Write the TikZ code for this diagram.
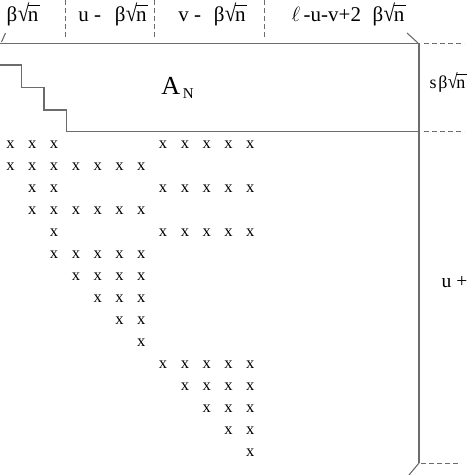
\documentclass[tikz,border=0pt]{standalone}
\usepackage{fontspec}
\setmainfont{Liberation Serif}
\newcommand{\sqn}{β\kern.02em\raisebox{-0.02em}{\scalebox{1}[1.12]{√}}\kern-0.07em\rlap{\rule[0.74em]{0.58em}{0.045em}}n}
\begin{document}
\begin{tikzpicture}[x=1pt,y=-1pt,
  frame/.style={draw=gray!85!black,line width=1.1pt},
  dashline/.style={draw=gray!85!black,line width=1pt,dash pattern=on 5pt off 3pt},
  lab/.style={inner sep=0pt,font=\fontsize{21}{23}\selectfont},
  xx/.style={inner sep=0pt,font=\fontsize{16.5}{18}\selectfont}]
\useasboundingbox (0,0) rectangle (474,475);
% frame lines
\draw[frame] (0,43.5) -- (419,43.5) -- (419,463);
\draw[frame] (0,65) -- (21.7,65) -- (21.7,87.7) -- (44,87.7) -- (44,110) -- (66.5,110) -- (66.5,131.7) -- (419,131.7);
\draw[frame] (1.5,42) -- (5.5,33);
\draw[frame] (407,33) -- (418,43);
\draw[frame] (419,463) -- (409,475);
% dashed guides
\draw[dashline] (65.7,0) -- (65.7,38);
\draw[dashline] (154,0) -- (154,38);
\draw[dashline] (264.7,0) -- (264.7,38);
\draw[dashline] (424,43.5) -- (464,43.5);
\draw[dashline] (424,131.7) -- (464,131.7);
\draw[dashline] (421,463) -- (461,463);
% labels
\node[lab,anchor=base] (t1) at (22.5,21.5) {\sqn};
\node[lab,anchor=base] (t2) at (112.5,21.5) {u -\kern.65em\sqn};
\node[lab,anchor=base] (t3) at (212,21.5) {v -\kern.6em\sqn};
\node[lab,anchor=base] (t4) at (348,21.5) {$\ell$\,-u-v+2\kern.55em\sqn};
\node[lab,anchor=base,font=\fontsize{18}{20}\selectfont] (t5) at (447.5,88) {s\kern.1em\sqn};
\node[lab,anchor=base west,font=\fontsize{19.5}{21}\selectfont] (t6) at (441.5,287.5) {u +};
\node[inner sep=0pt,anchor=base,font=\fontsize{26}{28}\selectfont] (an) at (177.5,94) {A\kern.1em\raisebox{-0.17em}{\fontsize{15}{17}\selectfont N}};
% x pattern
\foreach \r/\cols in {1/{1,2,3,8,9,10,11,12},2/{1,2,3,4,5,6,7},3/{2,3,8,9,10,11,12},4/{2,3,4,5,6,7},5/{3,8,9,10,11,12},6/{3,4,5,6,7},7/{4,5,6,7},8/{5,6,7},9/{6,7},10/{7},11/{8,9,10,11,12},12/{9,10,11,12},13/{10,11,12},14/{11,12},15/{12}}{
  \foreach \c in \cols {
    \node[xx] (x-\r-\c) at ({10.5+21.8*(\c-1)},{145+22*(\r-1)}) {x};
  }
}
\end{tikzpicture}
\end{document}
